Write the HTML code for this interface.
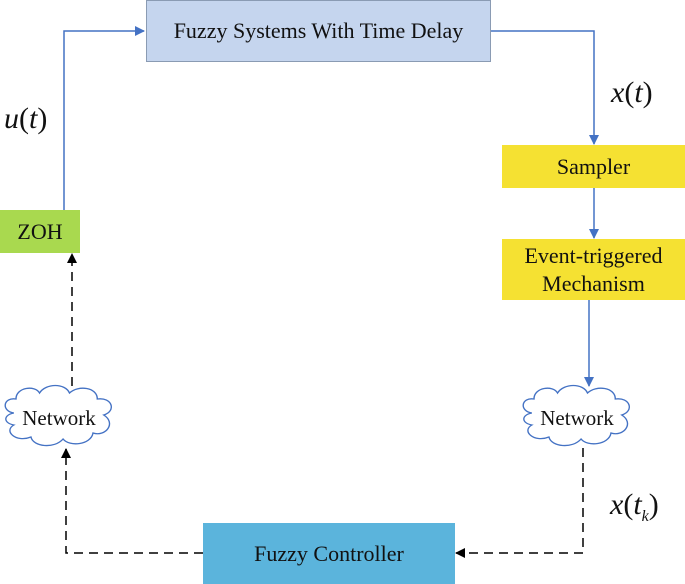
<!DOCTYPE html>
<html><head><style>
body{margin:0;width:685px;height:584px;background:#fff;overflow:hidden;position:relative;font-family:"Liberation Serif",serif;}
.b{position:absolute;display:flex;align-items:center;justify-content:center;text-align:center;color:#111;box-sizing:border-box;}
.m{position:absolute;font-style:italic;font-size:30px;color:#111;font-family:"Liberation Serif",serif;}
</style></head><body>
<svg width="685" height="584" style="position:absolute;left:0;top:0">
<defs>
<marker id="ab" markerWidth="10" markerHeight="10" refX="9" refY="5" orient="auto" markerUnits="userSpaceOnUse"><path d="M0,0 L10,5 L0,10z" fill="#4472c4"/></marker>
<marker id="ak" markerWidth="10" markerHeight="10" refX="9" refY="5" orient="auto" markerUnits="userSpaceOnUse"><path d="M0,0 L10,5 L0,10z" fill="#000"/></marker>
<g id="cloud"><path d="M12,30 C0,28 2,14 14,16 C14,4 32,2 36,10 C42,0 60,0 64,10 C72,2 90,4 90,16 C104,14 108,28 96,32 C108,40 98,54 86,50 C84,62 64,64 58,56 C50,66 30,64 28,54 C14,60 2,48 12,42 C2,40 2,32 12,30 Z" fill="#fff" stroke="#4472c4" stroke-width="1.3"/></g>
</defs>
<polyline points="64,210 64,31 144,31" fill="none" stroke="#4472c4" stroke-width="1.5" marker-end="url(#ab)"/>
<polyline points="490,31 594,31 594,144" fill="none" stroke="#4472c4" stroke-width="1.5" marker-end="url(#ab)"/>
<line x1="594" y1="188" x2="594" y2="238" stroke="#4472c4" stroke-width="1.5" marker-end="url(#ab)"/>
<line x1="589" y1="300" x2="589" y2="386" stroke="#4472c4" stroke-width="1.5" marker-end="url(#ab)"/>
<line x1="72" y1="386" x2="72" y2="254" stroke="#000" stroke-width="1.5" stroke-dasharray="9,6" marker-end="url(#ak)"/>
<polyline points="203,553 66,553 66,449" fill="none" stroke="#000" stroke-width="1.5" stroke-dasharray="9,6" marker-end="url(#ak)"/>
<polyline points="583,448 583,553 456,553" fill="none" stroke="#000" stroke-width="1.5" stroke-dasharray="9,6" marker-end="url(#ak)"/>
<g transform="translate(1,383) scale(1.07,1)"><use href="#cloud"/></g>
<g transform="translate(519,383) scale(1.07,1)"><use href="#cloud"/></g>
</svg>
<div class="b" style="left:146px;top:0;width:345px;height:62px;background:#c5d5ee;border:1.5px solid #8a9bb3;font-size:22px">Fuzzy Systems With Time Delay</div>
<div class="b" style="left:0;top:210px;width:80px;height:43px;background:#a9d94f;font-size:22px">ZOH</div>
<div class="b" style="left:502px;top:145px;width:183px;height:43px;background:#f5e132;font-size:22px">Sampler</div>
<div class="b" style="left:502px;top:239px;width:183px;height:61px;background:#f5e132;font-size:22px;line-height:28px">Event-triggered<br>Mechanism</div>
<div class="b" style="left:203px;top:523px;width:252px;height:61px;background:#5bb4dc;font-size:22px">Fuzzy Controller</div>
<div class="b" style="left:5px;top:400px;width:108px;height:36px;font-size:21px">Network</div>
<div class="b" style="left:523px;top:400px;width:108px;height:36px;font-size:21px">Network</div>
<div class="m" style="left:4px;top:102px">u<span style="font-style:normal">(</span>t<span style="font-style:normal">)</span></div>
<div class="m" style="left:611px;top:76px">x<span style="font-style:normal">(</span>t<span style="font-style:normal">)</span></div>
<div class="m" style="left:610px;top:488px">x<span style="font-style:normal">(</span>t<sub style="font-size:16px">k</sub><span style="font-style:normal">)</span></div>
</body></html>
